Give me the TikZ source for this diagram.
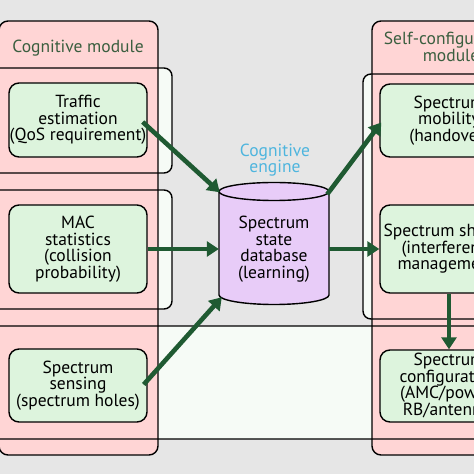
\documentclass[tikz,border=0pt]{standalone}
\usepackage{fontspec}
\setmainfont{PT Sans}
\usetikzlibrary{arrows.meta,calc}
\definecolor{bggray}{HTML}{E6E6E6}
\definecolor{modpink}{HTML}{FFD5D5}
\definecolor{rowwhite}{HTML}{F6FBF6}
\definecolor{boxgreen}{HTML}{DDF4DD}
\definecolor{cylpurple}{HTML}{E8CCF8}
\definecolor{arrowgreen}{HTML}{1F5A32}
\definecolor{titlegreen}{HTML}{3A5E3F}
\definecolor{engineblue}{HTML}{4EB5DE}
\tikzset{
  x=1pt, y=1pt,
  rowbox/.style={rounded corners=8pt},
  rowline/.style={draw=black, line width=1.4pt, rounded corners=8pt},
  module/.style={fill=modpink, draw=black, line width=1.4pt, rounded corners=9pt},
  greenbox/.style={draw=black, line width=1.4pt, fill=boxgreen, rounded corners=10pt,
    minimum width=138pt, align=center, inner sep=0pt, font=\fontsize{17.5}{16.6}\selectfont},
  bigarrow/.style={draw=arrowgreen, line width=4.6pt, -{Triangle[length=12pt,width=15pt]}},
  titletext/.style={text=titlegreen, align=center, font=\fontsize{17.5}{16.6}\selectfont, inner sep=0pt},
  plaintext/.style={align=center, font=\fontsize{17.5}{16.6}\selectfont, inner sep=0pt},
}
\begin{document}
\begin{tikzpicture}
\useasboundingbox (0,0) rectangle (474,474);
\clip (0,0) rectangle (474,474);
\fill[bggray] (0,0) rectangle (474,474);
% row fills
\fill[rowwhite, rowbox] (-20,301) rectangle (172,406);
\fill[rowwhite, rowbox] (-20,165) rectangle (172,284);
\fill[rowwhite] (-20,35) rectangle (500,148);
\fill[rowwhite, rowbox] (363,155) rectangle (560,400);
% modules
\path[module] (-1,19) rectangle (158,453);
\path[module] (372,19) rectangle (530,453);
% row borders
\path[rowline] (-20,301) rectangle (172,406);
\path[rowline] (-20,165) rectangle (172,284);
\path[rowline] (-20,35) rectangle (500,148);
\path[rowline] (363,155) rectangle (560,400);
% titles
\node[titletext] (cogmod) at (78,426) {Cognitive module};
\node[titletext] (selfmod) at (451,427) {Self-configuration\\module};
% left boxes
\node[greenbox, minimum height=74pt] (traffic) at (78,354) {Traffic\\estimation\\(QoS requirement)};
\node[greenbox, minimum height=88pt] (mac) at (78,225) {MAC\\statistics\\(collision\\probability)};
\node[greenbox, minimum height=73pt] (sensing) at (78,88.5) {Spectrum\\sensing\\(spectrum holes)};
% right boxes
\node[greenbox, minimum height=73pt] (mobility) at (449,353.5) {Spectrum\\mobility\\(handover)};
\node[greenbox, minimum height=88pt] (sharing) at (449,225) {Spectrum sharing\\(interference\\management)};
\node[greenbox, minimum height=72pt] (config) at (449,88) {Spectrum\\configuration\\(AMC/power/\\RB/antenna)};
% cylinder
\filldraw[fill=cylpurple, draw=black, line width=1.4pt]
  (219,282.5) -- (219,179) arc[start angle=180, end angle=360, x radius=55, y radius=9.5] -- (329,282.5) -- cycle;
\filldraw[fill=cylpurple, draw=black, line width=1.4pt] (274,282.5) ellipse[x radius=55, y radius=9];
\node[minimum width=110pt, minimum height=103.5pt, inner sep=0pt] (cylbody) at (274,230.75) {};
\node[plaintext] (cyltext) at (274,225) {Spectrum\\state\\database\\(learning)};
\node[plaintext, text=engineblue] (engine) at (275,314) {Cognitive\\engine};
% arrows
\draw[bigarrow] ($(traffic.east)+(-5,-2)$) -- ($(cylbody.north west)+(1,-1)$);
\draw[bigarrow] (mac.east) -- (mac.east -| cylbody.west);
\draw[bigarrow] ($(sensing.east)+(-4,1)$) -- ($(cylbody.south west)+(3,-2)$);
\draw[bigarrow] ($(cylbody.north east)+(-2,-3)$) -- ($(mobility.west)+(2,-2)$);
\draw[bigarrow] (cylbody.east |- sharing.west) -- (sharing.west);
\draw[bigarrow] (sharing.south) -- (config.north);
\end{tikzpicture}
\end{document}
